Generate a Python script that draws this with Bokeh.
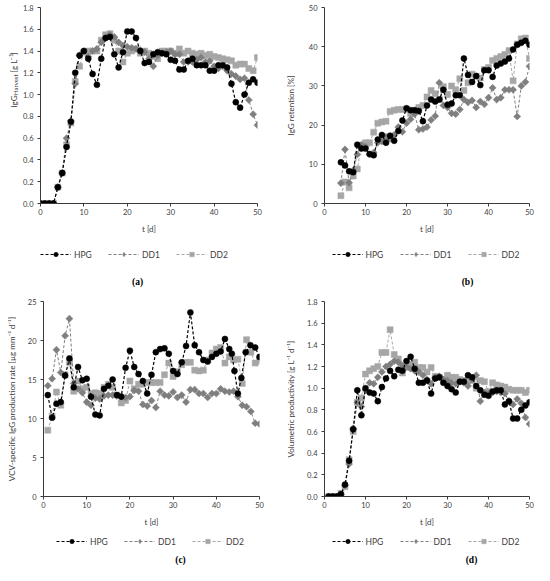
import math
from bokeh.plotting import figure
from bokeh.models import Range1d, FixedTicker, PrintfTickFormatter, Legend, LegendItem, Label, ColumnDataSource
from bokeh.layouts import row, column
from bokeh.embed import file_html
from bokeh.resources import INLINE

# ---------------- data ----------------
series_names = ["HPG", "DD1", "DD2"]
x_ticks = [0, 10, 20, 30, 40, 50]
ticks_conc = [0.0, 0.2, 0.4, 0.6, 0.8, 1.0, 1.2, 1.4, 1.6, 1.8]
ticks_ret = [0, 10, 20, 30, 40, 50]
ticks_qp = [0, 5, 10, 15, 20, 25]

# (a) IgG harvest concentration [g/L], days 0..50
days_a = list(range(0, 51))
hpg_a = [0, 0, 0, 0, 0.15, 0.28, 0.52, 0.75, 1.20, 1.36, 1.40, 1.33, 1.19, 1.09, 1.33, 1.52, 1.53, 1.37, 1.25, 1.39,
         1.58, 1.58, 1.52, 1.40, 1.29, 1.30, 1.37, 1.39, 1.38, 1.37, 1.32, 1.31, 1.23, 1.23, 1.31, 1.33, 1.27, 1.27,
         1.27, 1.22, 1.22, 1.27, 1.27, 1.25, 1.10, 0.93, 0.88, 1.00, 1.11, 1.14, 1.11]
dd1_a = [0, 0, 0, 0, 0.15, 0.28, 0.60, 0.76, 1.10, 1.36, 1.40, 1.35, 1.40, 1.42, 1.48, 1.52, 1.55, 1.53, 1.48, 1.45,
         1.44, 1.43, 1.42, 1.41, 1.39, 1.33, 1.26, 1.36, 1.38, 1.39, 1.40, 1.37, 1.37, 1.30, 1.30, 1.30, 1.32, 1.34,
         1.30, 1.31, 1.26, 1.24, 1.26, 1.22, 1.19, 1.17, 1.14, 1.15, 0.95, 0.82, 0.72]
dd2_a = [0, 0, 0, 0, 0.15, 0.28, 0.54, 0.74, 1.12, 1.26, 1.39, 1.40, 1.40, 1.40, 1.50, 1.55, 1.56, 1.50, 1.40, 1.30,
         1.38, 1.40, 1.42, 1.38, 1.40, 1.38, 1.35, 1.33, 1.40, 1.40, 1.40, 1.38, 1.42, 1.38, 1.40, 1.38, 1.37, 1.38,
         1.36, 1.37, 1.35, 1.34, 1.33, 1.32, 1.31, 1.27, 1.28, 1.28, 1.24, 1.22, 1.34]

# (b) IgG retention [%], days 4..50
days_b = list(range(4, 51))
hpg_b = [10.5, 9.7, 8.2, 8.0, 15.0, 14.0, 14.0, 12.6, 12.3, 16.3,
         17.5, 15.5, 17.3, 16.0, 18.5, 21.2, 24.3, 23.8, 23.8, 23.6,
         21.0, 25.0, 26.5, 26.0, 26.5, 29.0, 25.2, 25.5, 27.6, 27.6,
         37.0, 32.8, 31.0, 32.5, 30.2, 34.0, 34.0, 32.3, 35.2, 35.7,
         36.2, 37.0, 39.3, 40.5, 41.0, 41.5, 40.5]
dd1_b = [5.2, 13.8, 5.3, 8.5, 12.5, 15.0, 14.5, 12.5, 13.0, 15.5,
         15.8, 17.0, 16.5, 17.5, 19.5, 18.3, 20.5, 21.5, 22.8, 18.8,
         19.0, 19.5, 21.3, 22.3, 30.8, 25.0, 24.5, 23.0, 22.8, 24.0,
         26.5, 25.8, 26.3, 24.5, 26.0, 25.3, 27.0, 29.5, 26.5, 27.0,
         29.0, 29.0, 29.0, 22.2, 30.0, 31.0, 35.0]
dd2_b = [2.0, 5.5, 4.0, 7.0, 8.8, 14.8, 15.5, 15.5, 18.2, 20.5,
         20.8, 21.0, 23.5, 23.8, 24.0, 24.0, 24.0, 23.0, 23.8, 24.5,
         25.0, 27.2, 28.8, 28.0, 26.5, 29.8, 27.8, 30.0, 29.0, 31.8,
         28.8, 30.8, 33.0, 32.5, 32.0, 34.2, 34.7, 36.5, 37.0, 37.5,
         38.0, 39.0, 31.3, 40.7, 42.0, 42.2, 37.0]

# (c) VCV-specific production rate, days 1..50 (HPG with some intermediate samples)
days_c_hpg = [1, 2, 3, 4, 5, 6, 7, 8, 9, 10, 11, 12, 13, 14, 15, 16, 17, 18, 19, 20, 21, 22, 23, 24, 25, 26, 27, 28,
              29, 30, 31, 32, 33, 34, 35, 36, 37, 38, 39, 40, 41, 42, 43, 43.6, 44.2, 45, 45.8, 46.8, 47.9, 49, 50]
hpg_c = [13.0, 10.1, 11.9, 12.1, 15.5, 17.7, 14.0, 16.6, 14.9, 15.1,
         12.8, 10.5, 10.4, 13.8, 14.2, 15.0, 13.0, 12.8, 16.5, 18.7,
         16.6, 15.7, 14.8, 13.2, 15.6, 18.5, 18.9, 19.0, 18.3, 16.1,
         15.7, 17.2, 19.3, 23.6, 19.4, 18.5, 17.5, 17.3, 17.9, 18.3,
         18.6, 20.2, 18.9, 18.3, 16.1, 13.2, 15.2, 18.5, 19.4, 19.1, 17.9]
days_c = list(range(1, 51))
dd1_c = [14.2, 15.1, 18.8, 15.9, 20.6, 22.8, 14.5, 13.8, 13.3, 12.1,
         11.7, 12.6, 12.5, 12.9, 13.0, 13.0, 12.9, 12.8, 12.7, 12.8,
         13.6, 13.5, 11.8, 11.6, 12.3, 11.4, 13.5, 13.0, 12.9, 13.4,
         12.7, 13.0, 12.1, 13.7, 13.7, 13.2, 13.2, 12.7, 13.2, 13.2,
         13.8, 13.5, 13.4, 13.5, 12.8, 11.7, 11.5, 10.9, 9.4, 9.3]
dd2_c = [8.5, 10.3, 13.4, 11.7, 15.6, 17.2, 13.5, 14.8, 13.8, 14.0,
         13.2, 13.3, 13.2, 14.0, 14.4, 14.0, 13.0, 12.0, 12.3, 14.8,
         13.8, 14.4, 14.4, 14.6, 14.6, 14.6, 14.6, 15.6, 17.1, 15.4,
         16.0, 16.9, 17.2, 17.2, 16.2, 16.1, 16.2, 17.5, 18.4, 18.9,
         19.1, 17.1, 17.9, 17.5, 17.6, 14.5, 20.1, 18.5, 17.1, 17.4]

# (d) volumetric productivity, days 1..50
days_d = list(range(1, 51))
hpg_d = [0, 0, 0, 0.02, 0.11, 0.33, 0.62, 0.98, 0.75, 1.00,
         0.96, 0.95, 0.88, 1.01, 1.09, 1.16, 1.11, 1.17, 1.16, 1.25,
         1.29, 1.18, 1.05, 1.05, 1.07, 0.95, 1.09, 1.10, 1.05, 1.02,
         0.99, 0.96, 1.06, 1.06, 1.12, 1.10, 1.02, 0.98, 0.94, 0.93,
         0.97, 0.98, 0.98, 0.85, 0.88, 0.72, 0.72, 0.80, 0.84, 0.87]
dd1_d = [0, 0, 0, 0.02, 0.10, 0.30, 0.63, 0.87, 0.83, 0.98,
         1.05, 1.04, 1.10, 1.15, 1.20, 1.22, 1.25, 1.24, 1.21, 1.20,
         1.18, 1.16, 1.15, 1.12, 1.08, 1.04, 1.10, 1.11, 1.08, 1.07,
         1.05, 1.04, 1.06, 1.05, 1.02, 1.08, 1.12, 0.88, 0.96, 0.95,
         0.96, 0.97, 0.96, 0.95, 0.88, 0.85, 0.90, 0.86, 0.73, 0.67]
dd2_d = [0, 0, 0, 0.03, 0.09, 0.34, 0.60, 0.87, 0.91, 1.13,
         1.16, 1.18, 1.20, 1.33, 1.33, 1.54, 1.31, 1.27, 1.14, 1.19,
         1.22, 1.24, 1.19, 1.19, 1.15, 1.19, 1.11, 1.10, 1.08, 1.12,
         1.10, 1.10, 1.08, 1.07, 1.07, 1.07, 1.00, 1.07, 1.06, 0.97,
         1.05, 1.03, 1.02, 1.01, 0.99, 0.98, 0.98, 0.98, 0.96, 0.98]

# ---------------- style ----------------
FONT = "Lato"
TXT = "#404040"
AX = "#3a3a3a"
STYLE = {
    "HPG": dict(color="#000000", marker="circle", legend_marker="circle", size=6, angle=0.0, lw=1.2),
    "DD1": dict(color="#7f7f7f", marker="square", legend_marker="diamond", size=5, angle=math.pi / 4, lw=1.0),
    "DD2": dict(color="#a6a6a6", marker="square", legend_marker="square", size=6, angle=0.0, lw=1.0),
}


def bare_figure(width, height, bl=0, br=0, bt=0, bb=0):
    f = figure(width=width, height=height, output_backend="svg", toolbar_location=None,
               x_range=Range1d(0, 1), y_range=Range1d(0, 1), x_axis_location=None, y_axis_location=None,
               min_border_left=bl, min_border_right=br, min_border_top=bt, min_border_bottom=bb)
    f.outline_line_color = None
    f.xgrid.visible = False
    f.ygrid.visible = False
    f.background_fill_color = "white"
    f.border_fill_color = "white"
    return f


def draw_series(p, name, xs, ys, for_legend=False):
    st = STYLE[name]
    src = ColumnDataSource(dict(x=xs, y=ys))
    lr = p.line("x", "y", source=src, line_color=st["color"], line_width=st["lw"], line_dash="3 2")
    marker = st["legend_marker"] if for_legend else st["marker"]
    angle = 0.0 if for_legend else st["angle"]
    sr = p.scatter("x", "y", source=src, marker=marker, size=st["size"], angle=angle,
                   fill_color=st["color"], line_color=st["color"], line_width=0.5)
    return lr, sr


def make_panel(width, height, bl, br, bt, bb, ymax, yticks, yfmt, data, ylabel, ylab_standoff=6):
    p = figure(width=width, height=height, output_backend="svg", toolbar_location=None,
               x_range=Range1d(0, 50), y_range=Range1d(0, ymax),
               min_border_left=bl, min_border_right=br, min_border_top=bt, min_border_bottom=bb)
    p.outline_line_color = None
    p.xgrid.visible = False
    p.ygrid.visible = False
    p.background_fill_color = "white"
    p.border_fill_color = "white"

    xa = p.xaxis[0]
    ya = p.yaxis[0]
    xa.ticker = FixedTicker(ticks=x_ticks)
    ya.ticker = FixedTicker(ticks=yticks)
    ya.formatter = PrintfTickFormatter(format=yfmt)
    for ax in (xa, ya):
        ax.axis_line_color = AX
        ax.axis_line_width = 1
        ax.major_tick_line_color = AX
        ax.major_tick_out = 3
        ax.major_tick_in = 0
        ax.minor_tick_line_color = None
        ax.major_label_text_font = FONT
        ax.major_label_text_font_size = "7.5px"
        ax.major_label_text_color = TXT
        ax.axis_label_text_font = FONT
        ax.axis_label_text_font_size = "8px"
        ax.axis_label_text_font_style = "normal"
        ax.axis_label_text_color = TXT
    xa.major_label_standoff = 2
    xa.axis_label = "t [d]"
    xa.axis_label_standoff = 6
    ya.major_label_standoff = 4
    if ylabel:
        ya.axis_label = ylabel
        ya.axis_label_standoff = ylab_standoff

    for name in ["DD2", "DD1", "HPG"]:
        xs, ys = data[name]
        draw_series(p, name, xs, ys)
    return p


def make_legend_strip(width, height, bl, br):
    # the frame of this strip is sized so that a centred legend lands where the reference has it
    f = bare_figure(width, height, bl=bl, br=br)
    items = []
    for name in series_names:
        # a single off-frame point only provides the legend glyph
        lr, sr = draw_series(f, name, [-10.0], [-10.0], for_legend=True)
        items.append(LegendItem(label=name, renderers=[lr, sr]))
    leg = Legend(items=items, orientation="horizontal", location="center", margin=0,
                 glyph_width=31, glyph_height=11, label_standoff=3, spacing=14, padding=0,
                 border_line_color=None, background_fill_alpha=0, label_text_font=FONT,
                 label_text_font_size="8.5px", label_text_color=TXT, label_height=11)
    f.add_layout(leg, "center")
    return f


def make_caption(width, height, caption, cx, cy):
    f = bare_figure(width, height)
    f.add_layout(Label(x=cx, y=cy, x_units="screen", y_units="screen", text=caption,
                       text_align="center", text_baseline="middle", text_font="Liberation Serif",
                       text_font_style="bold", text_font_size="9.5px", text_color="#000000"))
    return f


data_a = {"HPG": (days_a, hpg_a), "DD1": (days_a, dd1_a), "DD2": (days_a, dd2_a)}
data_b = {"HPG": (days_b, hpg_b), "DD1": (days_b, dd1_b), "DD2": (days_b, dd2_b)}
data_c = {"HPG": (days_c_hpg, hpg_c), "DD1": (days_c, dd1_c), "DD2": (days_c, dd2_c)}
data_d = {"HPG": (days_d, hpg_d), "DD1": (days_d, dd1_d), "DD2": (days_d, dd2_d)}

# narrow strip carrying the composite y label of (a): IgG_Harvest [g L^-1]
lab_a = bare_figure(20, 236)
for txt, lx, ly, fs in [("IgG", 13, 96, "8px"), ("Harvest", 15, 108.5, "6px"),
                        ("[g L", 13, 131, "8px"), ("−1", 10, 143, "6px"), ("]", 13, 148.5, "8px")]:
    lab_a.add_layout(Label(x=lx, y=ly, x_units="screen", y_units="screen", text=txt, angle=math.pi / 2,
                           text_align="left", text_baseline="middle", text_font=FONT, text_font_size=fs,
                           text_color=TXT))

pa = make_panel(250, 236, 20, 13, 7, 33, 1.8, ticks_conc, "%.1f", data_a, None)
pb = make_panel(264, 236, 54, 5, 7, 33, 50, ticks_ret, "%d", data_b, "IgG retention [%]", ylab_standoff=10)
pc = make_panel(270, 242, 43, 11, 14, 33, 25, ticks_qp, "%d", data_c,
                "VCV-specific IgG production rate [µg mm⁻³ d⁻¹]", ylab_standoff=8)
pd_ = make_panel(264, 242, 54, 5, 14, 33, 1.8, ticks_conc, "%.1f", data_d,
                 "Volumetric productivity [g L⁻¹ d⁻¹]", ylab_standoff=8)

leg_a = make_legend_strip(270, 36, 0, 0)
leg_b = make_legend_strip(264, 36, 40, 0)
leg_c = make_legend_strip(270, 24, 0, 0)
leg_d = make_legend_strip(264, 24, 40, 0)
cap_a = make_caption(270, 15, "(a)", 137, 6)
cap_b = make_caption(264, 15, "(b)", 143, 6)
cap_c = make_caption(270, 12, "(c)", 137, 5.5)
cap_d = make_caption(264, 12, "(d)", 147, 5.5)

layout = column(
    row(column(row(lab_a, pa), leg_a, cap_a), column(pb, leg_b, cap_b)),
    row(column(pc, leg_c, cap_c), column(pd_, leg_d, cap_d)),
)
open("out.html", "w").write(file_html(layout, INLINE))
